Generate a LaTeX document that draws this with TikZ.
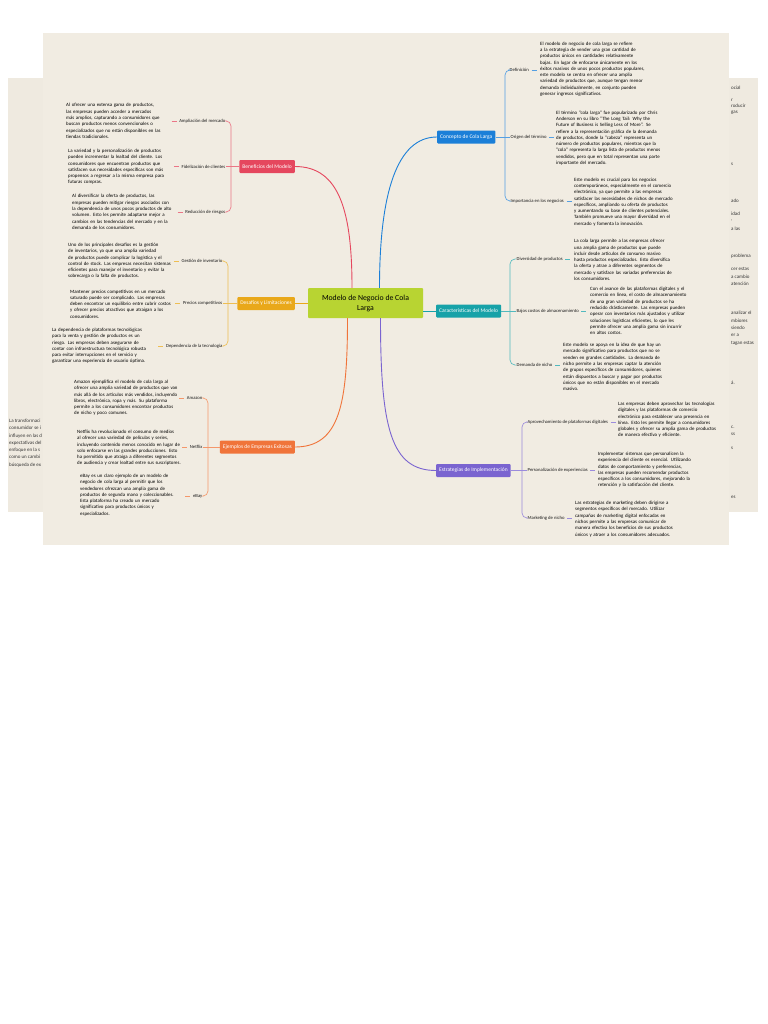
\documentclass[tikz,border=0pt]{standalone}
\usepackage{fontspec}
\setmainfont{Carlito}
\hyphenpenalty=10000
\exhyphenpenalty=10000

\definecolor{paper}{HTML}{F1ECE2}
\definecolor{backpaper}{HTML}{EFEAE0}
\definecolor{benred}{HTML}{E5475E}
\definecolor{desyel}{HTML}{E9A81A}
\definecolor{ejeorg}{HTML}{F0743A}
\definecolor{conblu}{HTML}{1B7FD8}
\definecolor{carteal}{HTML}{17A2A8}
\definecolor{estvio}{HTML}{7A64D0}
\definecolor{limecore}{HTML}{B8D432}

\begin{document}
\begin{tikzpicture}[x=1bp,y=-1bp,
	core/.style={fill=limecore, rounded corners=1pt, align=center, minimum width=115bp, minimum height=30bp,
		font=\fontsize{7.8}{10}\selectfont},
	topic/.style={fill=#1, text=white, rounded corners=1pt, inner xsep=3bp, minimum height=13bp,
		font=\fontsize{5.5}{6}\selectfont},
	sublabel/.style={text=black!90, inner sep=0.5bp, font=\fontsize{4.7}{5}\selectfont},
	desc/.style={text=black, align=left, inner sep=0pt, text width=#1, font=\fontsize{4.9}{6.3}\selectfont},
	backtext/.style={text=black!80, align=left, inner sep=0pt, font=\fontsize{5}{7.3}\selectfont},
	branch/.style={draw=#1, line width=0.9bp},
	twig/.style={draw=#1!75, line width=0.65bp}]
	\useasboundingbox (0,0) rectangle (768,1024);
	\fill[white] (0,0) rectangle (768,1024);

	% page behind the map
	\fill[backpaper] (8,78) rectangle (758,512);
	\node[backtext, anchor=north west] (backleft) at (9,419) {La transformaci\\consumidor se i\\influyen en las d\\expectativas del\\enfoque en la s\\como un cambi\\búsqueda de ex};
	\foreach \y/\t in {88/ocial, 100/r, 106/roducir, 113/gas, 164/s, 201/ado, 214/idad, 221/{,}, 229/a las,
		256/problema, 269/cer estas, 277/a cambio, 284/atención, 313/analizar el, 321/mbiores, 328/siendo,
		335/er a, 343/tagan estas, 383/á., 427/c., 434/ss, 448/s, 497/es}
		\node[backtext, anchor=west] at (731,\y) {\t};

	% the map itself
	\fill[paper] (43,33) rectangle (729,545);

	\node[core] (core) at (365.5,303) {Modelo de Negocio de Cola\\Larga};

	\node[topic=benred, anchor=east] (ben) at (295,166.5) {Beneficios del Modelo};
	\node[topic=desyel, anchor=east] (des) at (295,303.5) {Desafíos y Limitaciones};
	\node[topic=ejeorg, anchor=east] (eje) at (295,447) {Ejemplos de Empresas Exitosas};
	\node[topic=conblu, anchor=west] (con) at (437,137) {Concepto de Cola Larga};
	\node[topic=carteal, anchor=west] (car) at (436,311) {Características del Modelo};
	\node[topic=estvio, anchor=west] (est) at (436,470.5) {Estrategias de Implementación};

	\draw[branch=benred] ([xshift=-13.5bp]core.north) .. controls +(0,-75) and +(45,0) .. (ben.east);
	\draw[branch=conblu] ([xshift=14bp]core.north) .. controls +(0,-95) and +(-40,0) .. (con.west);
	\draw[branch=ejeorg] ([xshift=-18bp]core.south) .. controls +(0,85) and +(45,0) .. (eje.east);
	\draw[branch=estvio] ([xshift=15bp]core.south) .. controls +(0,110) and +(-45,0) .. (est.west);
	\draw[branch=desyel] (core.west |- des.east) -- (des.east);
	\draw[branch=carteal] (core.east |- car.west) -- (car.west);

	% Beneficios del Modelo
	\node[sublabel, anchor=east] (amp) at (226,121) {Ampliación del mercado};
	\node[sublabel, anchor=east] (fid) at (226,166.5) {Fidelización de clientes};
	\node[sublabel, anchor=east] (rie) at (226,212) {Reducción de riesgos};
	\coordinate (benbr) at (231,166.5);
	\draw[twig=benred, rounded corners=5bp] ([xshift=1bp]amp.east) -- (amp.east -| benbr) -- (rie.east -| benbr) -- ([xshift=1bp]rie.east);
	\draw[twig=benred] (fid.east) -- (ben.west);
	\node[desc=104bp, anchor=west] (ampd) at (66,121) {Al ofrecer una extensa gama de productos, las empresas pueden acceder a mercados más amplios, capturando a consumidores que buscan productos menos convencionales o especializados que no están disponibles en las tiendas tradicionales.};
	\node[desc=100bp, anchor=west] (fidd) at (68,167) {La variedad y la personalización de productos pueden incrementar la lealtad del cliente. Los consumidores que encuentran productos que satisfacen sus necesidades específicas son más propensos a regresar a la misma empresa para futuras compras.};
	\node[desc=102bp, anchor=west] (ried) at (72,212) {Al diversificar la oferta de productos, las empresas pueden mitigar riesgos asociados con la dependencia de unos pocos productos de alto volumen. Esto les permite adaptarse mejor a cambios en las tendencias del mercado y en la demanda de los consumidores.};

	% Desafíos y Limitaciones
	\node[sublabel, anchor=east] (ges) at (223,261) {Gestión de inventario};
	\node[sublabel, anchor=east] (pre) at (223,303.5) {Precios competitivos};
	\node[sublabel, anchor=east] (dep) at (223,346) {Dependencia de la tecnología};
	\coordinate (desbr) at (228,303.5);
	\draw[twig=desyel, rounded corners=5bp] ([xshift=1bp]ges.east) -- (ges.east -| desbr) -- (dep.east -| desbr) -- ([xshift=1bp]dep.east);
	\draw[twig=desyel] (pre.east) -- (des.west);
	\node[desc=104bp, anchor=west] (gesd) at (68,261) {Uno de los principales desafíos es la gestión de inventarios, ya que una amplia variedad de productos puede complicar la logística y el control de stock. Las empresas necesitan sistemas eficientes para manejar el inventario y evitar la sobrecarga o la falta de productos.};
	\node[desc=102bp, anchor=west] (pred) at (70,304) {Mantener precios competitivos en un mercado saturado puede ser complicado. Las empresas deben encontrar un equilibrio entre cubrir costos y ofrecer precios atractivos que atraigan a los consumidores.};
	\node[desc=100bp, anchor=west] (depd) at (52,346) {La dependencia de plataformas tecnológicas para la venta y gestión de productos es un riesgo. Las empresas deben asegurarse de contar con infraestructura tecnológica robusta para evitar interrupciones en el servicio y garantizar una experiencia de usuario óptima.};

	% Ejemplos de Empresas Exitosas
	\node[sublabel, anchor=east] (ama) at (203,398) {Amazon};
	\node[sublabel, anchor=east] (net) at (203,447) {Netflix};
	\node[sublabel, anchor=east] (eba) at (203,496) {eBay};
	\coordinate (ejebr) at (208,447);
	\draw[twig=ejeorg, rounded corners=5bp] ([xshift=1bp]ama.east) -- (ama.east -| ejebr) -- (eba.east -| ejebr) -- ([xshift=1bp]eba.east);
	\draw[twig=ejeorg] (net.east) -- (eje.west);
	\node[desc=106bp, anchor=west] (amad) at (74,398) {Amazon ejemplifica el modelo de cola larga al ofrecer una amplia variedad de productos que van más allá de los artículos más vendidos, incluyendo libros, electrónica, ropa y más. Su plataforma permite a los consumidores encontrar productos de nicho y poco comunes.};
	\node[desc=104bp, anchor=west] (netd) at (77,448) {Netflix ha revolucionado el consumo de medios al ofrecer una variedad de películas y series, incluyendo contenido menos conocido en lugar de solo enfocarse en las grandes producciones. Esto ha permitido que atraiga a diferentes segmentos de audiencia y crear lealtad entre sus suscriptores.};
	\node[desc=102bp, anchor=west] (ebad) at (80,495) {eBay es un claro ejemplo de un modelo de negocio de cola larga al permitir que los vendedores ofrezcan una amplia gama de productos de segunda mano y coleccionables. Esta plataforma ha creado un mercado significativo para productos únicos y especializados.};

	% Concepto de Cola Larga
	\node[sublabel, anchor=west] (def) at (509,70) {Definición};
	\node[sublabel, anchor=west] (ori) at (510,137) {Origen del término};
	\node[sublabel, anchor=west] (imp) at (510,201) {Importancia en los negocios};
	\coordinate (conbr) at (505,137);
	\draw[twig=conblu, rounded corners=5bp] ([xshift=-1bp]def.west) -- (def.west -| conbr) -- (imp.west -| conbr) -- ([xshift=-1bp]imp.west);
	\draw[twig=conblu] (con.east) -- (ori.west);
	\node[desc=105bp, anchor=west] (defd) at (540,69) {El modelo de negocio de cola larga se refiere a la estrategia de vender una gran cantidad de productos únicos en cantidades relativamente bajas. En lugar de enfocarse únicamente en los éxitos masivos de unos pocos productos populares, este modelo se centra en ofrecer una amplia variedad de productos que, aunque tengan menor demanda individualmente, en conjunto pueden generar ingresos significativos.};
	\node[desc=106bp, anchor=west] (orid) at (556,138) {El término "cola larga" fue popularizado por Chris Anderson en su libro "The Long Tail: Why the Future of Business is Selling Less of More". Se refiere a la representación gráfica de la demanda de productos, donde la "cabeza" representa un número de productos populares, mientras que la "cola" representa la larga lista de productos menos vendidos, pero que en total representan una parte importante del mercado.};
	\node[desc=104bp, anchor=west] (impd) at (574,202) {Este modelo es crucial para los negocios contemporáneos, especialmente en el comercio electrónico, ya que permite a las empresas satisfacer las necesidades de nichos de mercado específicos, ampliando su oferta de productos y aumentando su base de clientes potenciales. También promueve una mayor diversidad en el mercado y fomenta la innovación.};

	% Características del Modelo
	\node[sublabel, anchor=west] (div) at (516,259) {Diversidad de productos};
	\node[sublabel, anchor=west] (baj) at (516,311) {Bajos costos de almacenamiento};
	\node[sublabel, anchor=west] (dem) at (516,365) {Demanda de nicho};
	\coordinate (carbr) at (510,311);
	\draw[twig=carteal, rounded corners=5bp] ([xshift=-1bp]div.west) -- (div.west -| carbr) -- (dem.west -| carbr) -- ([xshift=-1bp]dem.west);
	\draw[twig=carteal] (car.east) -- (baj.west);
	\node[desc=102bp, anchor=west] (divd) at (574,260) {La cola larga permite a las empresas ofrecer una amplia gama de productos que puede incluir desde artículos de consumo masivo hasta productos especializados. Esto diversifica la oferta y atrae a diferentes segmentos de mercado y satisface las variadas preferencias de los consumidores.};
	\node[desc=98bp, anchor=west] (bajd) at (590,311) {Con el avance de las plataformas digitales y el comercio en línea, el costo de almacenamiento de una gran variedad de productos se ha reducido drásticamente. Las empresas pueden operar con inventarios más ajustados y utilizar soluciones logísticas eficientes, lo que les permite ofrecer una amplia gama sin incurrir en altos costos.};
	\node[desc=102bp, anchor=west] (demd) at (563,367) {Este modelo se apoya en la idea de que hay un mercado significativo para productos que no se venden en grandes cantidades. La demanda de nicho permite a las empresas captar la atención de grupos específicos de consumidores, quienes están dispuestos a buscar y pagar por productos únicos que no están disponibles en el mercado masivo.};

	% Estrategias de Implementación
	\node[sublabel, anchor=west] (apr) at (527,422) {Aprovechamiento de plataformas digitales};
	\node[sublabel, anchor=west] (per) at (527,470.5) {Personalización de experiencias};
	\node[sublabel, anchor=west] (mar) at (527,518) {Marketing de nicho};
	\coordinate (estbr) at (522,470.5);
	\draw[twig=estvio, rounded corners=5bp] ([xshift=-1bp]apr.west) -- (apr.west -| estbr) -- (mar.west -| estbr) -- ([xshift=-1bp]mar.west);
	\draw[twig=estvio] (est.east) -- (per.west);
	\node[desc=98bp, anchor=west] (aprd) at (618,420) {Las empresas deben aprovechar las tecnologías digitales y las plataformas de comercio electrónico para establecer una presencia en línea. Esto les permite llegar a consumidores globales y ofrecer su amplia gama de productos de manera efectiva y eficiente.};
	\node[desc=100bp, anchor=west] (perd) at (598,470) {Implementar sistemas que personalicen la experiencia del cliente es esencial. Utilizando datos de comportamiento y preferencias, las empresas pueden recomendar productos específicos a los consumidores, mejorando la retención y la satisfacción del cliente.};
	\node[desc=100bp, anchor=west] (mard) at (575,519) {Las estrategias de marketing deben dirigirse a segmentos específicos del mercado. Utilizar campañas de marketing digital enfocadas en nichos permite a las empresas comunicar de manera efectiva los beneficios de sus productos únicos y atraer a los consumidores adecuados.};

	% short dashes between labels and texts
	\foreach \n/\c in {amp/benred, fid/benred, rie/benred, ges/desyel, pre/desyel, dep/desyel, ama/ejeorg, net/ejeorg, eba/ejeorg}
		\draw[twig=\c] ([xshift=-7bp]\n.west) -- ([xshift=-2bp]\n.west);
	\foreach \n/\c in {def/conblu, ori/conblu, imp/conblu, div/carteal, baj/carteal, dem/carteal, apr/estvio, per/estvio, mar/estvio}
		\draw[twig=\c] ([xshift=2bp]\n.east) -- ([xshift=7bp]\n.east);
\end{tikzpicture}
\end{document}
